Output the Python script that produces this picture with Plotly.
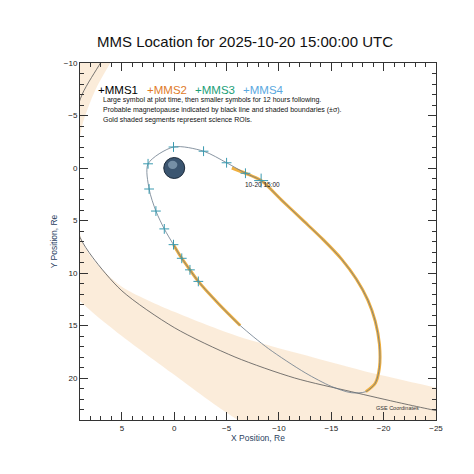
import plotly.graph_objects as go

# orbit path (GSE, Re)
orbit_x = [-8.3, -6.8, -5.0, -2.8, 0.07, 2.5, 2.4, 1.75, 0.95, 0.07, -0.72, -1.5, -2.3, -4.3, -6.3, -9.0, -12.5, -15.0, -16.9, -18.3, -19.2, -19.6, -19.6, -19.2, -18.5, -17.4, -16.0, -14.2, -12.2, -10.3, -8.3]
orbit_y = [1.2, 0.5, -0.5, -1.6, -2.0, -0.4, 2.0, 4.1, 5.8, 7.3, 8.6, 9.7, 10.8, 13.0, 15.0, 17.2, 19.5, 20.8, 21.4, 21.3, 20.5, 19.0, 16.8, 14.6, 12.6, 10.6, 8.7, 6.8, 4.9, 3.1, 1.2]
# hourly positions for 12 h after plot time
mark_x = [-8.3, -6.8, -5.0, -2.8, 0.07, 2.5, 2.4, 1.75, 0.95, 0.07, -0.72, -1.5, -2.3]
mark_y = [1.2, 0.5, -0.5, -1.6, -2.0, -0.4, 2.0, 4.1, 5.8, 7.3, 8.6, 9.7, 10.8]
# science ROI segments
roiA_x = [-5.5, -6.8, -8.3, -10.3, -12.2, -14.2, -16.0, -17.4, -18.5, -19.2, -19.6, -19.6, -19.2, -18.3]
roiA_y = [0.0, 0.5, 1.2, 3.1, 4.9, 6.8, 8.7, 10.6, 12.6, 14.6, 16.8, 19.0, 20.5, 21.3]
roiB_x = [0.07, -0.72, -1.5, -2.3, -4.3, -6.3]
roiB_y = [7.3, 8.6, 9.7, 10.8, 13.0, 15.0]
# magnetopause model and boundaries
mp_x = [6.5, 7.05, 8.8, 10.0, 10.3, 10.0, 9.0, 7.8, 5.0, 0.0, -5.8, -11.5, -16.9, -21.7, -24.5, -27.0]
mp_y = [-11.0, -10.0, -7.0, -3.0, 0.0, 3.0, 6.6, 8.5, 11.7, 15.2, 18.0, 20.0, 21.3, 22.4, 23.0, 23.5]
inner_x = [5.5, 7.5, 8.8, 9.3, 9.2, 8.8, 7.5, 5.0, 0.0, -6.0, -12.0, -18.0, -25.0, -27.0]
inner_y = [-11.0, -7.5, -4.0, 0.0, 4.0, 7.0, 9.0, 11.3, 13.7, 16.0, 17.7, 19.3, 20.9, 21.3]
outer_x = [-27.0, -10.0, -5.0, 0.0, 5.0, 8.3, 10.5, 12.5, 11.0]
outer_y = [26.0, 26.0, 23.3, 19.7, 16.0, 13.3, 11.0, 0.0, -11.0]

fig = go.Figure()
fig.add_trace(go.Scatter(x=inner_x + outer_x, y=inner_y + outer_y, fill="toself",
                         fillcolor="rgba(250,230,205,0.75)", line=dict(width=0, shape="spline", smoothing=0.8),
                         mode="lines", hoverinfo="skip"))
fig.add_trace(go.Scatter(x=mp_x, y=mp_y, mode="lines", line=dict(color="#555", width=0.8, shape="spline", smoothing=0.8)))
for rx, ry in [(roiA_x, roiA_y), (roiB_x, roiB_y)]:
    fig.add_trace(go.Scatter(x=rx, y=ry, mode="lines", line=dict(color="#f0b040", width=3, shape="spline", smoothing=0.8)))
fig.add_trace(go.Scatter(x=orbit_x, y=orbit_y, mode="lines", line=dict(color="#6a7a8a", width=0.8, shape="spline", smoothing=0.8)))
fig.add_trace(go.Scatter(x=mark_x[1:], y=mark_y[1:], mode="markers",
                         marker=dict(symbol="cross-thin", size=7, line=dict(color="#3a9ab0", width=1))))
fig.add_trace(go.Scatter(x=mark_x[:1], y=mark_y[:1], mode="markers",
                         marker=dict(symbol="cross-thin", size=10, line=dict(color="#3a9ab0", width=1))))

fig.add_shape(type="circle", x0=-1.0, x1=1.0, y0=-1.0, y1=1.0, fillcolor="#3b5570",
              line=dict(color="#1c2a3a", width=1), layer="above")
fig.add_shape(type="circle", x0=0.6, x1=-0.3, y0=-0.7, y1=0.1, fillcolor="#8fa8bd",
              line=dict(width=0), layer="above", opacity=0.7)

fig.add_annotation(x=-8.4, y=1.55, text="10-20 15:00", showarrow=False, font=dict(size=6.5, color="#222"))
fig.add_annotation(x=-21.3, y=22.85, text="GSE Coordinates", showarrow=False, font=dict(size=5.5, color="#333"))

leg = [("MMS1", "black", 88), ("MMS2", "#e07b2a", 137), ("MMS3", "#1a9e77", 185), ("MMS4", "#5aa8e0", 233)]
for name, col, px in leg:
    fig.add_annotation(xref="paper", yref="paper", x=(px - 72) / 356, y=1 - (82 - 55) / 357,
                       text="+" + name, showarrow=False, xanchor="left", yanchor="middle",
                       font=dict(size=11.5, color=col))
lines = ["Large symbol at plot time, then smaller symbols for 12 hours following.",
         "Probable magnetopause indicated by black line and shaded boundaries (±σ).",
         "Gold shaded segments represent science ROIs."]
for i, t in enumerate(lines):
    fig.add_annotation(xref="paper", yref="paper", x=(93 - 72) / 356, y=1 - (92 + 10 * i - 55) / 357,
                       text=t, showarrow=False, xanchor="left", yanchor="middle",
                       font=dict(size=7, color="#111"))

ax = dict(showgrid=False, zeroline=False, ticks="inside", ticklen=8, tickcolor="#333",
          showline=True, linecolor="#333", linewidth=1, mirror="allticks", dtick=5,
          minor=dict(ticks="inside", ticklen=4, dtick=1, tickcolor="#333"),
          tickfont=dict(size=8, color="#222"))
fig.update_xaxes(range=[9, -25], title=dict(text="X Position, Re", font=dict(size=8.5), standoff=2), **ax)
fig.update_yaxes(range=[24, -10], title=dict(text="Y Position, Re", font=dict(size=8.5), standoff=4), **ax)
fig.update_layout(width=474, height=474, showlegend=False, plot_bgcolor="white", paper_bgcolor="white",
                  margin=dict(l=72, r=46, t=55, b=62),
                  font=dict(family="Liberation Sans, Arial, sans-serif"),
                  title=dict(text="MMS Location for 2025-10-20 15:00:00 UTC", x=0.5, y=0.94,
                             xanchor="center", font=dict(size=15, color="#111")))
fig.write_html("out.html")
